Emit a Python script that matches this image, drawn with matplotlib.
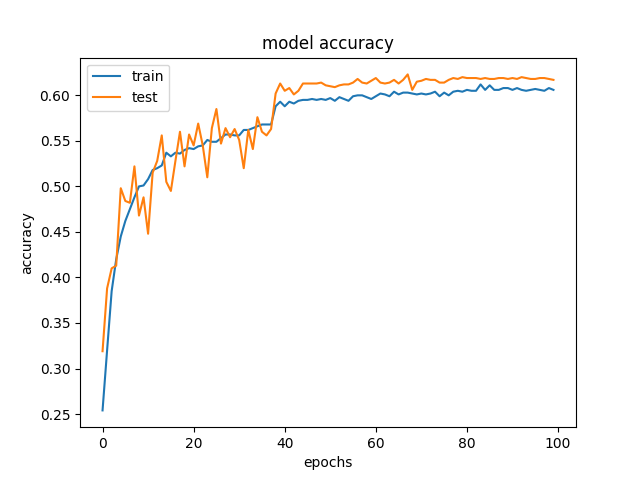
import matplotlib
matplotlib.use("Agg")
import matplotlib.pyplot as plt

# accuracy per epoch
train_acc = [
    0.254, 0.320, 0.385, 0.420, 0.445, 0.462, 0.475, 0.488, 0.500, 0.501,
    0.508, 0.518, 0.520, 0.523, 0.537, 0.533, 0.537, 0.536, 0.540, 0.542,
    0.541, 0.544, 0.545, 0.551, 0.549, 0.549, 0.553, 0.557, 0.557, 0.556,
    0.556, 0.562, 0.562, 0.564, 0.566, 0.568, 0.568, 0.568, 0.588, 0.593,
    0.588, 0.593, 0.591, 0.594, 0.595, 0.595, 0.596, 0.595, 0.596, 0.595,
    0.597, 0.594, 0.598, 0.596, 0.594, 0.599, 0.600, 0.600, 0.598, 0.596,
    0.599, 0.602, 0.601, 0.599, 0.604, 0.601, 0.603, 0.603, 0.602, 0.601,
    0.602, 0.601, 0.602, 0.604, 0.599, 0.603, 0.600, 0.604, 0.605, 0.604,
    0.606, 0.605, 0.605, 0.612, 0.606, 0.611, 0.606, 0.606, 0.608, 0.608,
    0.606, 0.608, 0.606, 0.605, 0.606, 0.607, 0.606, 0.605, 0.608, 0.606,
]
test_acc = [
    0.319, 0.388, 0.410, 0.413, 0.498, 0.484, 0.482, 0.522, 0.468, 0.488,
    0.448, 0.515, 0.528, 0.556, 0.505, 0.495, 0.528, 0.560, 0.522, 0.557,
    0.545, 0.569, 0.545, 0.510, 0.564, 0.585, 0.547, 0.564, 0.554, 0.563,
    0.551, 0.520, 0.562, 0.541, 0.576, 0.560, 0.556, 0.563, 0.602, 0.613,
    0.605, 0.608, 0.601, 0.605, 0.613, 0.613, 0.613, 0.613, 0.614, 0.611,
    0.610, 0.609, 0.611, 0.612, 0.612, 0.614, 0.618, 0.614, 0.613, 0.616,
    0.619, 0.614, 0.613, 0.614, 0.617, 0.613, 0.617, 0.623, 0.606, 0.615,
    0.616, 0.618, 0.617, 0.617, 0.614, 0.614, 0.617, 0.619, 0.618, 0.620,
    0.619, 0.619, 0.619, 0.618, 0.619, 0.618, 0.618, 0.619, 0.619, 0.618,
    0.619, 0.618, 0.620, 0.619, 0.618, 0.618, 0.619, 0.619, 0.618, 0.617,
]

plt.figure(figsize=(6.4, 4.8), dpi=100)
plt.plot(train_acc)
plt.plot(test_acc)
plt.title("model accuracy")
plt.ylabel("accuracy")
plt.xlabel("epochs")
plt.legend(["train", "test"], loc="upper left")
plt.savefig("out.png")
